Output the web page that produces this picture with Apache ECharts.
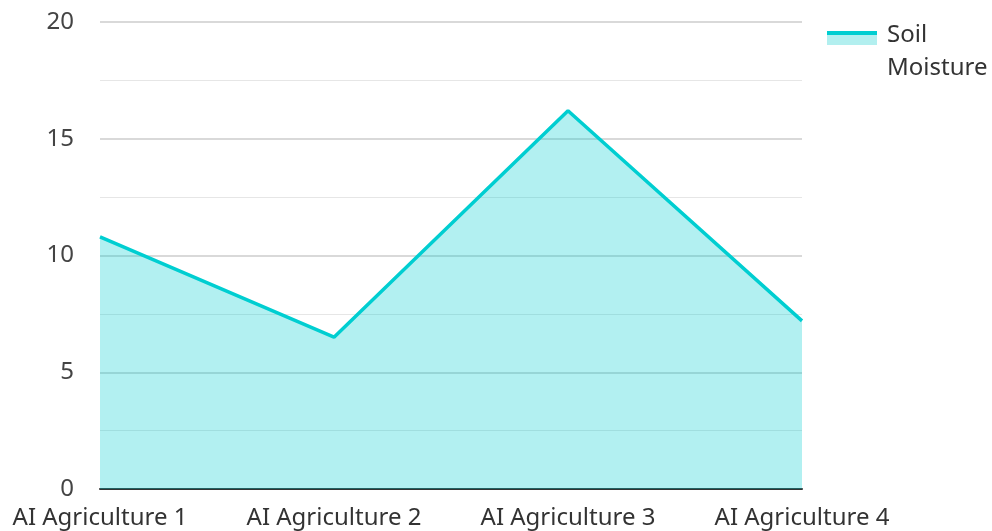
<!DOCTYPE html>
<html><head><meta charset="utf-8">
<script src="https://cdn.jsdelivr.net/npm/echarts@6/dist/echarts.min.js"></script>
<style>html,body{margin:0;padding:0;background:#fff}#c{width:992px;height:531px}</style>
</head><body><div id="c"></div>
<script>
const categories = ['AI Agriculture 1', 'AI Agriculture 2', 'AI Agriculture 3', 'AI Agriculture 4'];
const soilMoisture = [10.8, 6.5, 16.2, 7.2];
const seriesName = 'Soil Moisture';

const chart = echarts.init(document.getElementById('c'));
chart.setOption({
  animation: false,
  textStyle: { fontFamily: 'Noto Sans' },
  grid: { left: 100, right: 190, top: 22, bottom: 42, containLabel: false },
  legend: {
    left: 827, top: 19, orient: 'vertical', padding: 0,
    icon: 'rect',
    itemWidth: 50, itemHeight: 42, itemGap: 10,
    itemStyle: {
      color: new echarts.graphic.LinearGradient(0, 0, 0, 1, [
        { offset: 0, color: '#00CED1' }, { offset: 0.095, color: '#00CED1' },
        { offset: 0.095, color: '#B2EFEF' }, { offset: 0.333, color: '#B2EFEF' },
        { offset: 0.333, color: 'rgba(255,255,255,0)' }, { offset: 1, color: 'rgba(255,255,255,0)' }
      ])
    },
    textStyle: { fontSize: 24, color: '#333', width: 104, overflow: 'break', lineHeight: 33, padding: [0, 0, 0, 5] },
    data: [seriesName]
  },
  xAxis: {
    type: 'category', data: categories, boundaryGap: false,
    axisLine: { lineStyle: { color: '#333', width: 2 } },
    axisTick: { show: false },
    axisLabel: { fontSize: 24, color: '#333', margin: 17 }
  },
  yAxis: {
    type: 'value', min: 0, max: 20, interval: 5,
    axisLine: { show: false }, axisTick: { show: false },
    axisLabel: { fontSize: 24, color: '#444', margin: 26 },
    splitLine: { lineStyle: { color: '#ccc', width: 1.5 } },
    minorTick: { show: false, splitNumber: 2 },
    minorSplitLine: { show: true, lineStyle: { color: '#e6e6e6', width: 1 } }
  },
  series: [{
    name: seriesName, type: 'line', data: soilMoisture,
    showSymbol: false, symbol: 'none',
    lineStyle: { color: '#00CED1', width: 3.5 },
    itemStyle: { color: '#00CED1' },
    areaStyle: { color: '#00CED1', opacity: 0.3 }
  }]
});
</script></body></html>
